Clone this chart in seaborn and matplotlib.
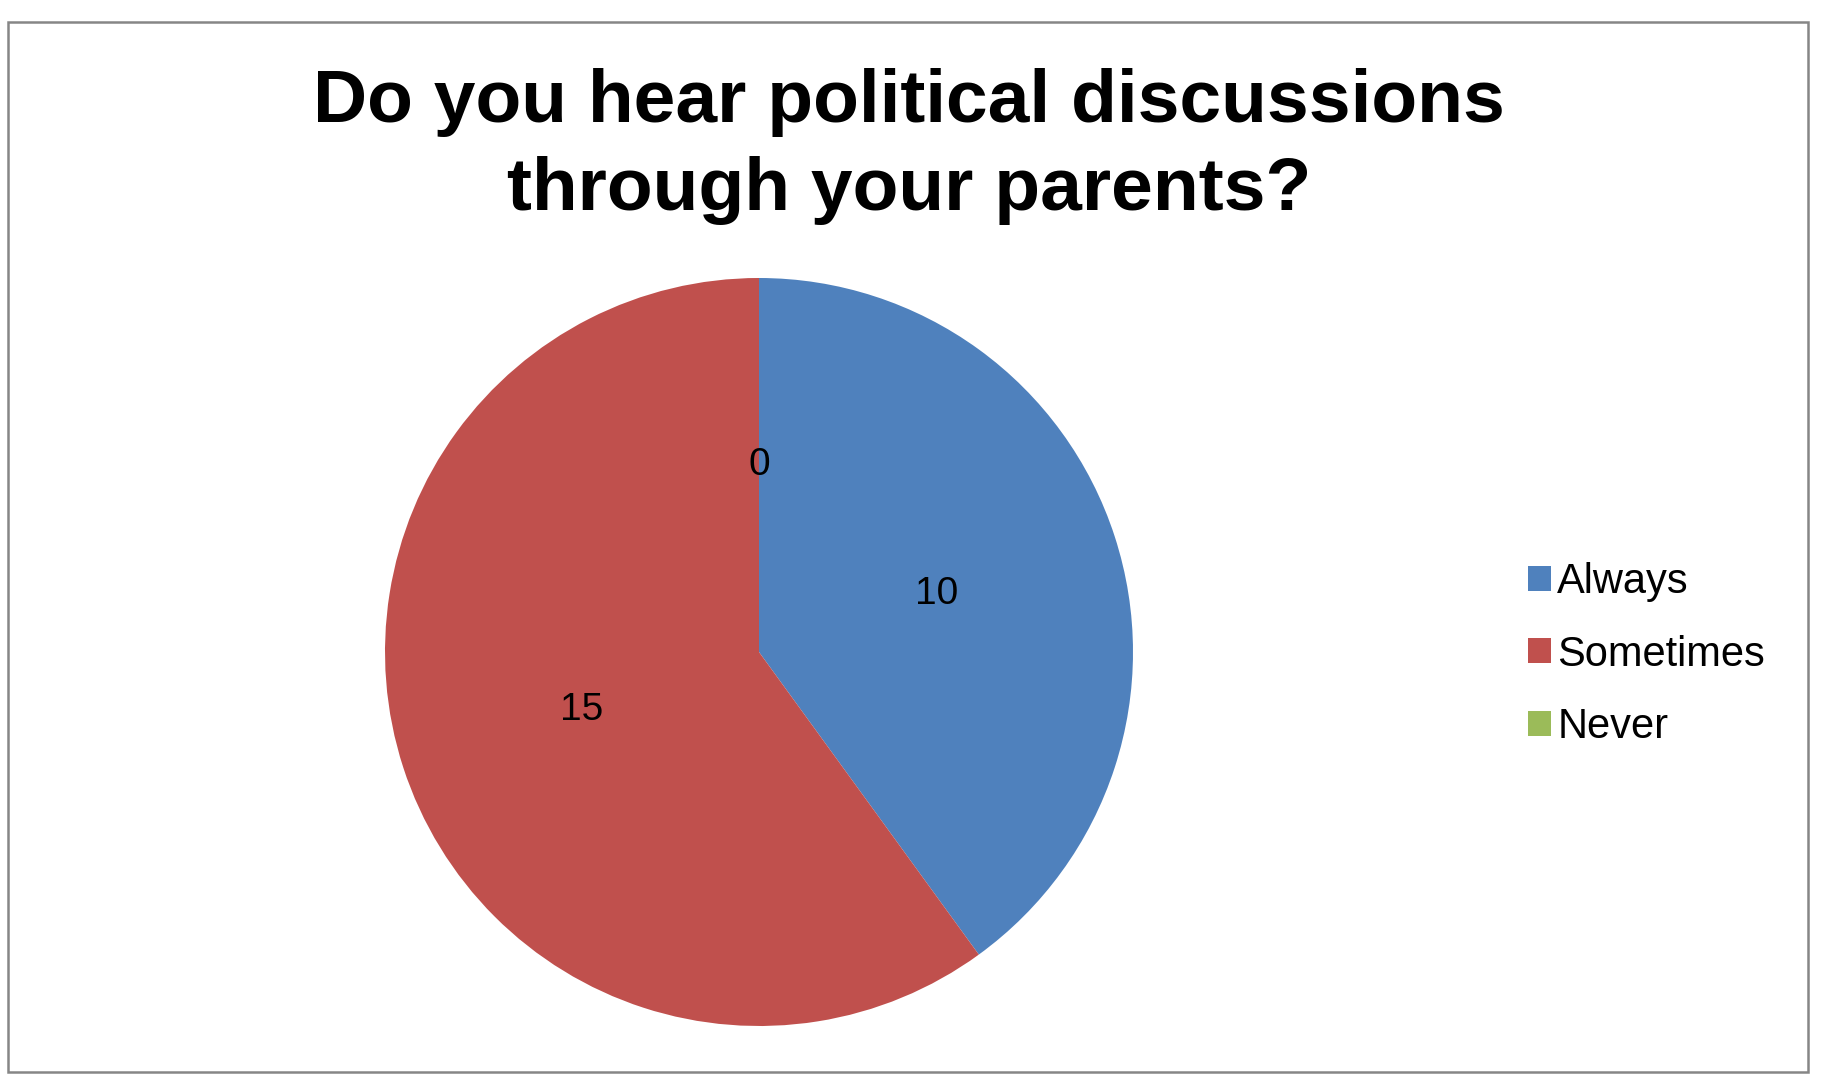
import matplotlib.pyplot as plt
import seaborn as sns
from matplotlib.patches import Patch, Rectangle

# survey answers
answers = ['Always', 'Sometimes', 'Never']
counts = [10, 15, 0]
colors = ['#4F81BD', '#C0504D', '#9BBB59']
title_lines = ['Do you hear political discussions', 'through your parents?']

sns.set_theme(style='white')
plt.rcParams['font.family'] = ['Liberation Sans', 'DejaVu Sans']
plt.rcParams['text.color'] = 'black'

fig = plt.figure(figsize=(18.42, 10.75), dpi=100)
fig.patch.set_facecolor('white')

# pie axes, centre (760, 652) px, radius about 374 px
ax = fig.add_axes([385 / 1842, 49 / 1075, 748 / 1842, 748 / 1075])

total = sum(counts)
ax.pie(counts, colors=colors, startangle=90, counterclock=False,
       autopct=lambda p: '{:.0f}'.format(p * total / 100), pctdistance=0.5,
       textprops={'fontsize': 28, 'color': 'black'},
       wedgeprops={'linewidth': 0})
ax.set_xlim(-1, 1)
ax.set_ylim(-1, 1)
ax.set_aspect('equal')
ax.axis('off')

# title, two lines
fig.text(909 / 1842, 1 - 122 / 1075, title_lines[0], ha='center', va='baseline',
         fontsize=54, fontweight='bold', color='black')
fig.text(909 / 1842, 1 - 210 / 1075, title_lines[1], ha='center', va='baseline',
         fontsize=54, fontweight='bold', color='black')

handles = [Patch(facecolor=c, edgecolor='none', label=a) for a, c in zip(answers, colors)]
leg = fig.legend(handles=handles, loc='upper left', bbox_to_anchor=(1528 / 1842, 1 - 562 / 1075),
                 frameon=False, fontsize=30, handlelength=0.55, handleheight=0.55,
                 handletextpad=0.15, labelspacing=0.78, borderpad=0, borderaxespad=0)
for t in leg.get_texts():
    t.set_color('black')

# grey frame round the chart
fig.patches.append(Rectangle((8 / 1842, 3 / 1075), 1800 / 1842, 1050 / 1075,
                             transform=fig.transFigure, fill=False,
                             edgecolor='#868686', linewidth=1.8))

fig.savefig('out.png', dpi=100, facecolor='white')
